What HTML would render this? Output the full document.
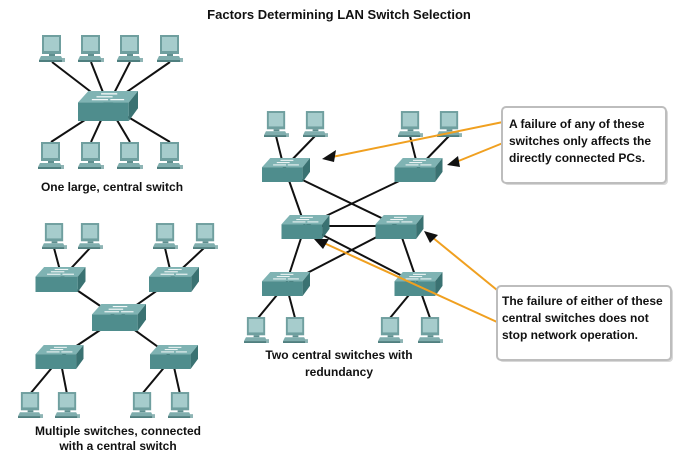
<!DOCTYPE html>
<html><head><meta charset="utf-8"><style>
html,body{margin:0;padding:0;background:#fff;width:678px;height:458px;overflow:hidden}
svg{display:block}
text{font-family:"Liberation Sans",Arial,sans-serif;font-weight:bold;fill:#111}
</style></head><body>
<svg width="678" height="458" viewBox="0 0 678 458" xmlns="http://www.w3.org/2000/svg">
<defs>
<symbol id="pc" viewBox="0 0 26 28">
 <rect x="3" y="0" width="19" height="19" fill="#6f9f9f"/>
 <rect x="5" y="2" width="15" height="14" fill="#a6cccc"/>
 <rect x="10" y="19" width="6" height="2" fill="#5f8f8f"/>
 <polygon points="2,21 22,21 24,25 0,25" fill="#7fadad"/>
 <rect x="0" y="25" width="24" height="2" fill="#4f7f7f"/>
 <rect x="23" y="23" width="3" height="4" fill="#8fb5b5"/>
</symbol>
<symbol id="sw" viewBox="0 0 52 26">
 <polygon points="9,0 52,0 44,10 0,10" fill="#7fb3b3"/>
 <rect x="0" y="10" width="44" height="16" fill="#4f8d8d"/>
 <polygon points="44,10 52,0 52,15 44,26" fill="#3a7272"/>
 <g stroke="#fff" stroke-width="1">
  <line x1="20" y1="2.5" x2="34" y2="2.5"/><line x1="16" y1="5" x2="30" y2="5"/>
  <line x1="12" y1="7.5" x2="26" y2="7.5"/><line x1="28" y1="7.5" x2="40" y2="7.5"/>
 </g>
</symbol>
</defs>

<text x="339" y="19" font-size="13" text-anchor="middle">Factors Determining LAN Switch Selection</text>

<!-- section 1 -->
<g stroke="#111" stroke-width="2">
 <line x1="52" y1="62" x2="108" y2="105"/><line x1="91" y1="62" x2="108" y2="105"/>
 <line x1="130" y1="62" x2="108" y2="105"/><line x1="170" y1="62" x2="108" y2="105"/>
 <line x1="51" y1="142" x2="108" y2="105"/><line x1="91" y1="142" x2="108" y2="105"/>
 <line x1="130" y1="142" x2="108" y2="105"/><line x1="170" y1="142" x2="108" y2="105"/>
</g>
<use href="#pc" x="39" y="35" width="26" height="28"/>
<use href="#pc" x="78" y="35" width="26" height="28"/>
<use href="#pc" x="117" y="35" width="26" height="28"/>
<use href="#pc" x="157" y="35" width="26" height="28"/>
<use href="#sw" x="78" y="90" width="60" height="32"/>
<use href="#pc" x="38" y="142" width="26" height="28"/>
<use href="#pc" x="78" y="142" width="26" height="28"/>
<use href="#pc" x="117" y="142" width="26" height="28"/>
<use href="#pc" x="157" y="142" width="26" height="28"/>
<text x="112" y="191" font-size="12" text-anchor="middle">One large, central switch</text>

<!-- section 2 -->
<g stroke="#111" stroke-width="2">
 <line x1="54" y1="248" x2="62" y2="278"/><line x1="90" y1="248" x2="62" y2="278"/>
 <line x1="165" y1="248" x2="172" y2="278"/><line x1="204" y1="248" x2="172" y2="278"/>
 <line x1="62" y1="280" x2="118" y2="318"/><line x1="172" y1="280" x2="118" y2="318"/>
 <line x1="60" y1="357" x2="118" y2="318"/><line x1="172" y1="357" x2="118" y2="318"/>
 <line x1="60" y1="358" x2="30" y2="394"/><line x1="60" y1="358" x2="67" y2="394"/>
 <line x1="172" y1="358" x2="142" y2="394"/><line x1="172" y1="358" x2="180" y2="394"/>
</g>
<use href="#pc" x="42" y="223" width="25" height="27"/>
<use href="#pc" x="78" y="223" width="25" height="27"/>
<use href="#pc" x="153" y="223" width="25" height="27"/>
<use href="#pc" x="193" y="223" width="25" height="27"/>
<use href="#sw" x="35" y="267" width="51" height="25"/>
<use href="#sw" x="148" y="267" width="52" height="25"/>
<use href="#sw" x="91" y="304" width="56" height="27"/>
<use href="#sw" x="34" y="345" width="51" height="24"/>
<use href="#sw" x="148" y="345" width="52" height="24"/>
<use href="#pc" x="18" y="392" width="25" height="27"/>
<use href="#pc" x="55" y="392" width="25" height="27"/>
<use href="#pc" x="130" y="392" width="25" height="27"/>
<use href="#pc" x="168" y="392" width="25" height="27"/>
<text x="118" y="435" font-size="12" text-anchor="middle">Multiple switches, connected</text>
<text x="118" y="450" font-size="12" text-anchor="middle">with a central switch</text>

<!-- section 3 -->
<g stroke="#111" stroke-width="2">
 <line x1="276" y1="136" x2="284" y2="168"/><line x1="315" y1="136" x2="284" y2="168"/>
 <line x1="410" y1="136" x2="418" y2="168"/><line x1="449" y1="136" x2="418" y2="168"/>
 <line x1="286" y1="172" x2="305" y2="226"/><line x1="286" y1="172" x2="398" y2="226"/>
 <line x1="418" y1="172" x2="305" y2="226"/>
 <line x1="305" y1="226" x2="398" y2="226"/>
 <line x1="305" y1="226" x2="286" y2="284"/><line x1="305" y1="226" x2="418" y2="284"/>
 <line x1="398" y1="226" x2="286" y2="284"/><line x1="398" y1="226" x2="418" y2="284"/>
 <line x1="286" y1="284" x2="258" y2="318"/><line x1="286" y1="284" x2="295" y2="318"/>
 <line x1="418" y1="284" x2="390" y2="318"/><line x1="418" y1="284" x2="430" y2="318"/>
</g>
<use href="#pc" x="264" y="111" width="25" height="27"/>
<use href="#pc" x="303" y="111" width="25" height="27"/>
<use href="#pc" x="398" y="111" width="25" height="27"/>
<use href="#pc" x="437" y="111" width="25" height="27"/>
<use href="#sw" x="260" y="158" width="52" height="24"/>
<use href="#sw" x="393" y="158" width="51" height="24"/>
<use href="#sw" x="280" y="215" width="51" height="24"/>
<use href="#sw" x="374" y="215" width="51" height="24"/>
<use href="#sw" x="260" y="272" width="52" height="24"/>
<use href="#sw" x="393" y="272" width="51" height="24"/>
<use href="#pc" x="244" y="317" width="25" height="27"/>
<use href="#pc" x="283" y="317" width="25" height="27"/>
<use href="#pc" x="378" y="317" width="25" height="27"/>
<use href="#pc" x="418" y="317" width="25" height="27"/>
<text x="339" y="359" font-size="12" text-anchor="middle">Two central switches with</text>
<text x="339" y="376" font-size="12" text-anchor="middle">redundancy</text>

<!-- orange callout lines -->
<g stroke="#f0a020" stroke-width="2">
 <line x1="503" y1="122" x2="332" y2="157"/>
 <line x1="503" y1="143" x2="456" y2="162"/>
 <line x1="497" y1="290" x2="432" y2="237"/>
 <line x1="497" y1="322" x2="324" y2="243"/>
</g>
<g fill="#111">
 <polygon points="322,159 336,150 334,162"/>
 <polygon points="447,165 458,156 460,167"/>
 <polygon points="424,231 438,235 430,243"/>
 <polygon points="314,239 329,239 323,249"/>
</g>

<!-- callouts -->
<rect x="504" y="109" width="164" height="76" rx="4" fill="#d8d8d8"/>
<rect x="502" y="107" width="164" height="76" rx="4" fill="#fff" stroke="#bdbdbd" stroke-width="2"/>
<text x="509" y="128" font-size="12">A failure of any of these</text>
<text x="509" y="145" font-size="12">switches only affects the</text>
<text x="509" y="162" font-size="12">directly connected PCs.</text>

<rect x="499" y="288" width="174" height="74" rx="4" fill="#d8d8d8"/>
<rect x="497" y="286" width="174" height="74" rx="4" fill="#fff" stroke="#bdbdbd" stroke-width="2"/>
<text x="502" y="305" font-size="12">The failure of either of these</text>
<text x="502" y="322" font-size="12">central switches does not</text>
<text x="502" y="339" font-size="12">stop network operation.</text>
</svg>
</body></html>
